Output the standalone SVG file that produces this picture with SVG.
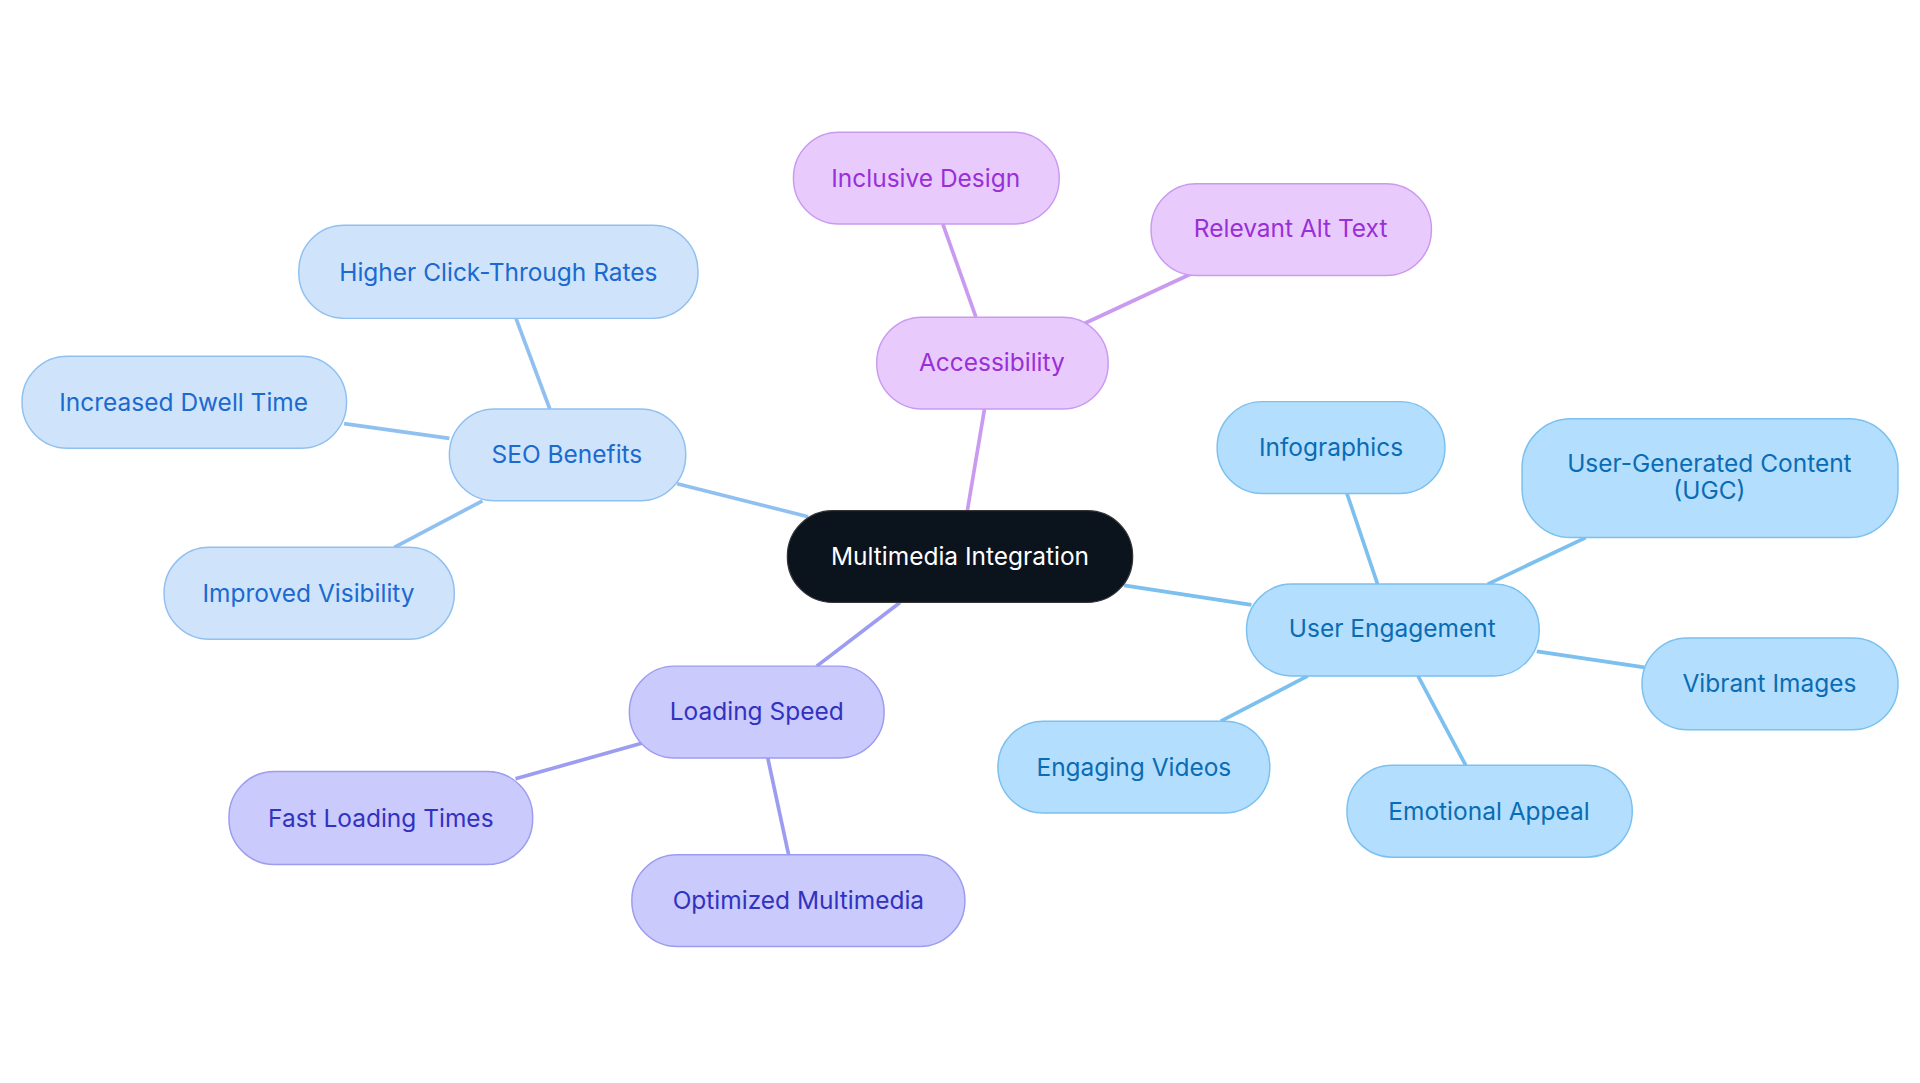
<svg xmlns="http://www.w3.org/2000/svg" width="1920" height="1083" viewBox="0 0 1920 1083">
<style>
text{font-family:Inter,"Open Sans",sans-serif;font-size:20px;text-anchor:middle;dominant-baseline:central}
.b rect{fill:#cfe3fa;stroke:#90c0f0;stroke-width:1.2}.b text{fill:#1a6ad0}
.p rect{fill:#e8cbfc;stroke:#c99af0;stroke-width:1.2}.p text{fill:#9a2fd8}
.c rect{fill:#b4defd;stroke:#7bc0ee;stroke-width:1.2}.c text{fill:#0a6cb4}
.v rect{fill:#cacafd;stroke:#9c9cf0;stroke-width:1.2}.v text{fill:#3232c0}
#edges line{stroke-width:3}
</style>
<rect width="1920" height="1083" fill="#fff"/>
<g transform="scale(1.2245)">
<g id="edges">
<line x1="660" y1="422" x2="553" y2="395" stroke="#90c0f0"/>
<line x1="449" y1="334" x2="421" y2="259" stroke="#90c0f0"/>
<line x1="367" y1="358" x2="281" y2="346" stroke="#90c0f0"/>
<line x1="394" y1="409" x2="322" y2="447" stroke="#90c0f0"/>
<line x1="790" y1="417" x2="804" y2="334" stroke="#c99af0"/>
<line x1="797" y1="259" x2="770" y2="183" stroke="#c99af0"/>
<line x1="886" y1="264" x2="972" y2="224" stroke="#c99af0"/>
<line x1="918" y1="478" x2="1022" y2="494" stroke="#7bc0ee"/>
<line x1="1125" y1="477" x2="1100" y2="403" stroke="#7bc0ee"/>
<line x1="1215" y1="477" x2="1295" y2="439" stroke="#7bc0ee"/>
<line x1="1255" y1="532" x2="1343" y2="545" stroke="#7bc0ee"/>
<line x1="1158" y1="552" x2="1197" y2="625" stroke="#7bc0ee"/>
<line x1="1068" y1="552" x2="997" y2="589" stroke="#7bc0ee"/>
<line x1="735" y1="492" x2="667" y2="544" stroke="#9c9cf0"/>
<line x1="524" y1="607" x2="421" y2="636" stroke="#9c9cf0"/>
<line x1="627" y1="619" x2="644" y2="698" stroke="#9c9cf0"/>
</g>
<g id="center"><rect x="643" y="417" width="282" height="75" rx="37" fill="#0b131d" stroke="#333"/><text x="784" y="454" fill="#fff">Multimedia Integration</text></g>
<g id="seo" class="b"><rect x="367" y="334" width="193" height="75" rx="37"/><text x="463" y="371">SEO Benefits</text></g>
<g id="ctr" class="b"><rect x="244" y="184" width="326" height="76" rx="37"/><text x="407" y="222">Higher Click-Through Rates</text></g>
<g id="dwell" class="b"><rect x="18" y="291" width="265" height="75" rx="37"/><text x="150" y="328">Increased Dwell Time</text></g>
<g id="vis" class="b"><rect x="134" y="447" width="237" height="75" rx="37"/><text x="252" y="484">Improved Visibility</text></g>
<g id="acc" class="p"><rect x="716" y="259" width="189" height="75" rx="37"/><text x="810" y="296">Accessibility</text></g>
<g id="incl" class="p"><rect x="648" y="108" width="217" height="75" rx="37"/><text x="756" y="145">Inclusive Design</text></g>
<g id="alt" class="p"><rect x="940" y="150" width="229" height="75" rx="37"/><text x="1054" y="186">Relevant Alt Text</text></g>
<g id="ue" class="c"><rect x="1018" y="477" width="239" height="75" rx="37"/><text x="1137" y="513">User Engagement</text></g>
<g id="info" class="c"><rect x="994" y="328" width="186" height="75" rx="37"/><text x="1087" y="365">Infographics</text></g>
<g id="ugc" class="c"><rect x="1243" y="342" width="307" height="97" rx="40"/><text x="1396" y="378">User-Generated Content</text><text x="1396" y="400">(UGC)</text></g>
<g id="vib" class="c"><rect x="1341" y="521" width="209" height="75" rx="37"/><text x="1445" y="558">Vibrant Images</text></g>
<g id="emo" class="c"><rect x="1100" y="625" width="233" height="75" rx="37"/><text x="1216" y="662">Emotional Appeal</text></g>
<g id="vid" class="c"><rect x="815" y="589" width="222" height="75" rx="37"/><text x="926" y="626">Engaging Videos</text></g>
<g id="ls" class="v"><rect x="514" y="544" width="208" height="75" rx="37"/><text x="618" y="581">Loading Speed</text></g>
<g id="fast" class="v"><rect x="187" y="630" width="248" height="76" rx="37"/><text x="311" y="668">Fast Loading Times</text></g>
<g id="opt" class="v"><rect x="516" y="698" width="272" height="75" rx="37"/><text x="652" y="735">Optimized Multimedia</text></g>
</g>
</svg>
